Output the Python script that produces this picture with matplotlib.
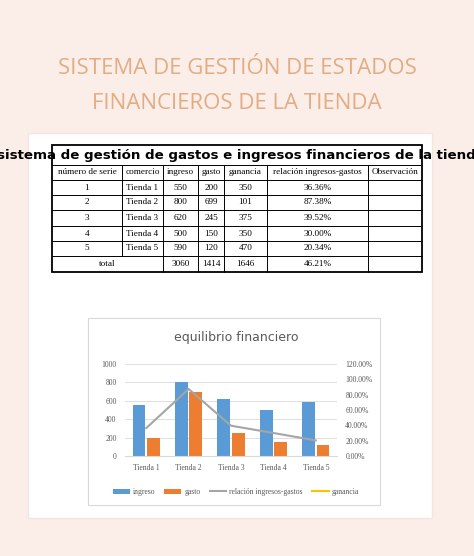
import matplotlib.pyplot as plt
from matplotlib.patches import Rectangle
from matplotlib.ticker import FuncFormatter

tiendas = ["Tienda 1", "Tienda 2", "Tienda 3", "Tienda 4", "Tienda 5"]
ingreso = [550, 800, 620, 500, 590]
gasto = [200, 699, 245, 150, 120]
ganancia = [350, 101, 375, 350, 470]
relacion = [36.36, 87.38, 39.52, 30.00, 20.34]
headers = ["número de serie", "comercio", "ingreso", "gasto", "ganancia", "relación ingresos-gastos", "Observación"]

W, H = 474, 556
fig = plt.figure(figsize=(W / 100, H / 100), dpi=100)
fig.patch.set_facecolor("#fbeee8")
plt.rcParams["font.family"] = ["Liberation Serif", "DejaVu Sans"]

def box(x0, y0, x1, y1):
    return [x0 / W, 1 - y1 / H, (x1 - x0) / W, (y1 - y0) / H]

# title
fig.text(0.5, 1 - 68 / H, "SISTEMA DE GESTIÓN DE ESTADOS", ha="center", va="center",
         fontsize=16, color="#e3ac82", family="Open Sans")
fig.text(0.5, 1 - 104 / H, "FINANCIEROS DE LA TIENDA", ha="center", va="center",
         fontsize=16, color="#e3ac82", family="Open Sans")

# background axes in pixel coordinates: card, table, chart frame
ta = fig.add_axes([0, 0, 1, 1], zorder=0)
ta.set_xlim(0, W)
ta.set_ylim(H, 0)
ta.axis("off")
ta.patch.set_alpha(0)
ta.add_patch(Rectangle((28, 133), 404, 385, facecolor="white", edgecolor="#f3e6e0", zorder=0))
ta.add_patch(Rectangle((88, 318), 292, 187, facecolor="white", edgecolor="#d9d9d9", lw=0.8, zorder=1))

cols = [52, 122, 163, 198, 224, 267, 368, 422]
rows = [165, 180, 195, 210, 226, 241, 256, 272]
top = 145
for y in rows[:-1]:
    ta.plot([cols[0], cols[-1]], [y, y], color="black", lw=0.7)
for i, x in enumerate(cols[1:-1], start=1):
    ta.plot([x, x], [rows[0], rows[-1] if i != 1 else rows[-2]], color="black", lw=0.7)
ta.add_patch(Rectangle((cols[0], top), cols[-1] - cols[0], rows[-1] - top, fill=False,
                       edgecolor="black", lw=1.3, zorder=3))
clip = Rectangle((cols[0], top), cols[-1] - cols[0], rows[0] - top, transform=ta.transData)
t = ta.text((cols[0] + cols[-1]) / 2 + 4, (top + rows[0]) / 2,
            "sistema de gestión de gastos e ingresos financieros de la tienda",
            ha="center", va="center", fontsize=9.6, fontweight="bold", family="DejaVu Sans")
t.set_clip_path(clip)
fs = 6.6
for j, h in enumerate(headers):
    ta.text((cols[j] + cols[j + 1]) / 2, (rows[0] + rows[1]) / 2, h, ha="center", va="center", fontsize=fs)
for i in range(5):
    yc = (rows[i + 1] + rows[i + 2]) / 2
    vals = [str(i + 1), tiendas[i], str(ingreso[i]), str(gasto[i]), str(ganancia[i]), f"{relacion[i]:.2f}%", ""]
    for j, v in enumerate(vals):
        ta.text((cols[j] + cols[j + 1]) / 2, yc, v, ha="center", va="center", fontsize=fs)
yc = (rows[6] + rows[7]) / 2
tot_i, tot_g = sum(ingreso), sum(gasto)
ta.text((cols[0] + cols[2]) / 2, yc, "total", ha="center", va="center", fontsize=fs)
for j, v in zip([2, 3, 4, 5], [str(tot_i), str(tot_g), str(sum(ganancia)), f"{tot_g / tot_i * 100:.2f}%"]):
    ta.text((cols[j] + cols[j + 1]) / 2, yc, v, ha="center", va="center", fontsize=fs)

ta.text(236, 337, "equilibrio financiero", ha="center", va="center",
        fontsize=9, color="#595959", family="DejaVu Sans")

ax = fig.add_axes(box(125, 364, 337, 456), zorder=2)
ax.patch.set_alpha(0)
x = range(len(tiendas))
w = 0.3
ax.bar([i - w / 2 - 0.02 for i in x], ingreso, w, color="#5b9bd5", label="ingreso")
ax.bar([i + w / 2 + 0.02 for i in x], gasto, w, color="#ed7d31", label="gasto")
ax.set_ylim(0, 1000)
ax.set_yticks(range(0, 1001, 200))
ax.set_xlim(-0.5, 4.5)
ax.set_xticks(list(x))
ax.set_xticklabels(tiendas)
ax.grid(axis="y", color="#d9d9d9", lw=0.6)
ax.set_axisbelow(True)
for s in ["top", "right", "left"]:
    ax.spines[s].set_visible(False)
ax.spines["bottom"].set_color("#d9d9d9")
ax.tick_params(length=0, labelsize=5.5, colors="#595959", pad=6)

ax2 = ax.twinx()
ax2.set_zorder(3)
ax2.patch.set_alpha(0)
ax2.plot(list(x), relacion, color="#a5a5a5", lw=1.5, label="relación ingresos-gastos")
ax2.plot([], [], color="#ffc000", lw=1.5, label="ganancia")
ax2.set_ylim(0, 120)
ax2.set_yticks(range(0, 121, 20))
ax2.yaxis.set_major_formatter(FuncFormatter(lambda v, p: f"{v:.2f}%"))
for s in ax2.spines.values():
    s.set_visible(False)
ax2.tick_params(length=0, labelsize=5.5, colors="#595959", pad=6)

h1, l1 = ax.get_legend_handles_labels()
h2, l2 = ax2.get_legend_handles_labels()
ta.legend(h1 + h2, l1 + l2, loc="center", bbox_to_anchor=(236 / W, 1 - 492 / H),
          bbox_transform=fig.transFigure, ncol=4,
          frameon=False, fontsize=5.5, labelcolor="#595959", handlelength=2.2, columnspacing=1.2,
          handletextpad=0.4)

fig.savefig("out.png", dpi=100, facecolor=fig.get_facecolor())
